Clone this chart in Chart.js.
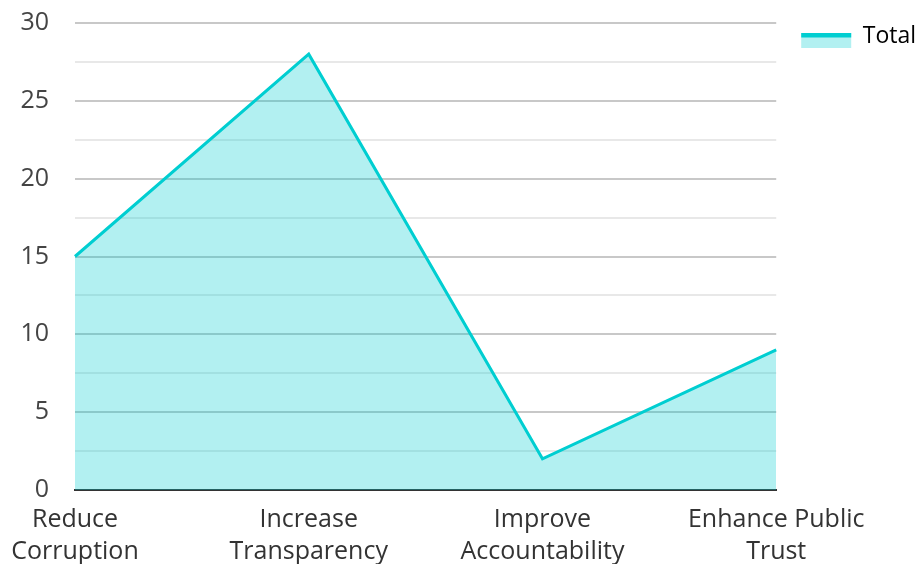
<!DOCTYPE html>
<html><head><meta charset="utf-8">
<script src="https://cdn.jsdelivr.net/npm/chart.js@4"></script>
<style>html,body{margin:0;padding:0;background:#fff}#wrap{width:917px;height:564px}</style>
</head><body><div id="wrap"><canvas id="c"></canvas></div>
<script>
const categories = [['Reduce','Corruption'],['Increase','Transparency'],['Improve','Accountability'],['Enhance Public','Trust']];
const seriesName = 'Total';
const totalValues = [15, 28, 2, 9];
const lineColor = 'rgb(0,206,209)';
const fillColor = 'rgba(0,206,209,0.3)';

const legendLine = {
  id:'legendLine',
  afterDraw(chart){
    const lg = chart.legend; if(!lg || !lg.legendHitBoxes || !lg.legendHitBoxes.length) return;
    const hb = lg.legendHitBoxes[0];
    const mid = hb.top + hb.height/2;
    const ctx = chart.ctx; ctx.save();
    ctx.fillStyle = fillColor;
    ctx.fillRect(hb.left, mid - 3.5, 50, 15);
    ctx.fillStyle = lineColor;
    ctx.fillRect(hb.left, mid - 3.5, 50, 4.5);
    ctx.restore();
  }
};

new Chart(document.getElementById('c'), {
  type:'line',
  data:{ labels: categories, datasets:[{
    label: seriesName, data: totalValues, borderColor: lineColor, backgroundColor: fillColor,
    borderWidth:3, fill:'origin', tension:0, pointRadius:0
  }]},
  options:{
    responsive:true, maintainAspectRatio:false, animation:false,
    layout:{padding:{top:0,right:-9,left:0,bottom:0}},
    plugins:{
      legend:{position:'right', align:'start',
        labels:{boxWidth:50, boxHeight:14, color:'#222', font:{family:'Open Sans', size:23}, padding:25,
          generateLabels(chart){ return [{text:seriesName, fillStyle:'rgba(0,0,0,0)', strokeStyle:'rgba(0,0,0,0)', lineWidth:0, datasetIndex:0}]; }
        }},
      tooltip:{enabled:false}
    },
    scales:{
      x:{ offset:false, grid:{display:false, drawTicks:false}, border:{display:true,color:'#333',width:2},
        ticks:{color:'#333', font:{family:'Open Sans', size:25, lineHeight:1.28}, maxRotation:0, padding:14},
        afterFit(s){ s.height = 74; s.paddingLeft = 0; s.paddingRight = 0; }},
      y:{ min:0, max:30, border:{display:false},
        grid:{drawTicks:false, lineWidth:2, color:(c)=> (c.tick && c.tick.value%5===0) ? '#c8c8c8' : '#e8e8e8'},
        ticks:{stepSize:2.5, color:'#444', font:{family:'Open Sans', size:25}, padding:26,
          callback:(v)=> v%5===0 ? v : ''},
        afterFit(s){ s.width = 75; s.paddingTop = 23; }}
    }
  },
  plugins:[legendLine]
});
</script></body></html>
